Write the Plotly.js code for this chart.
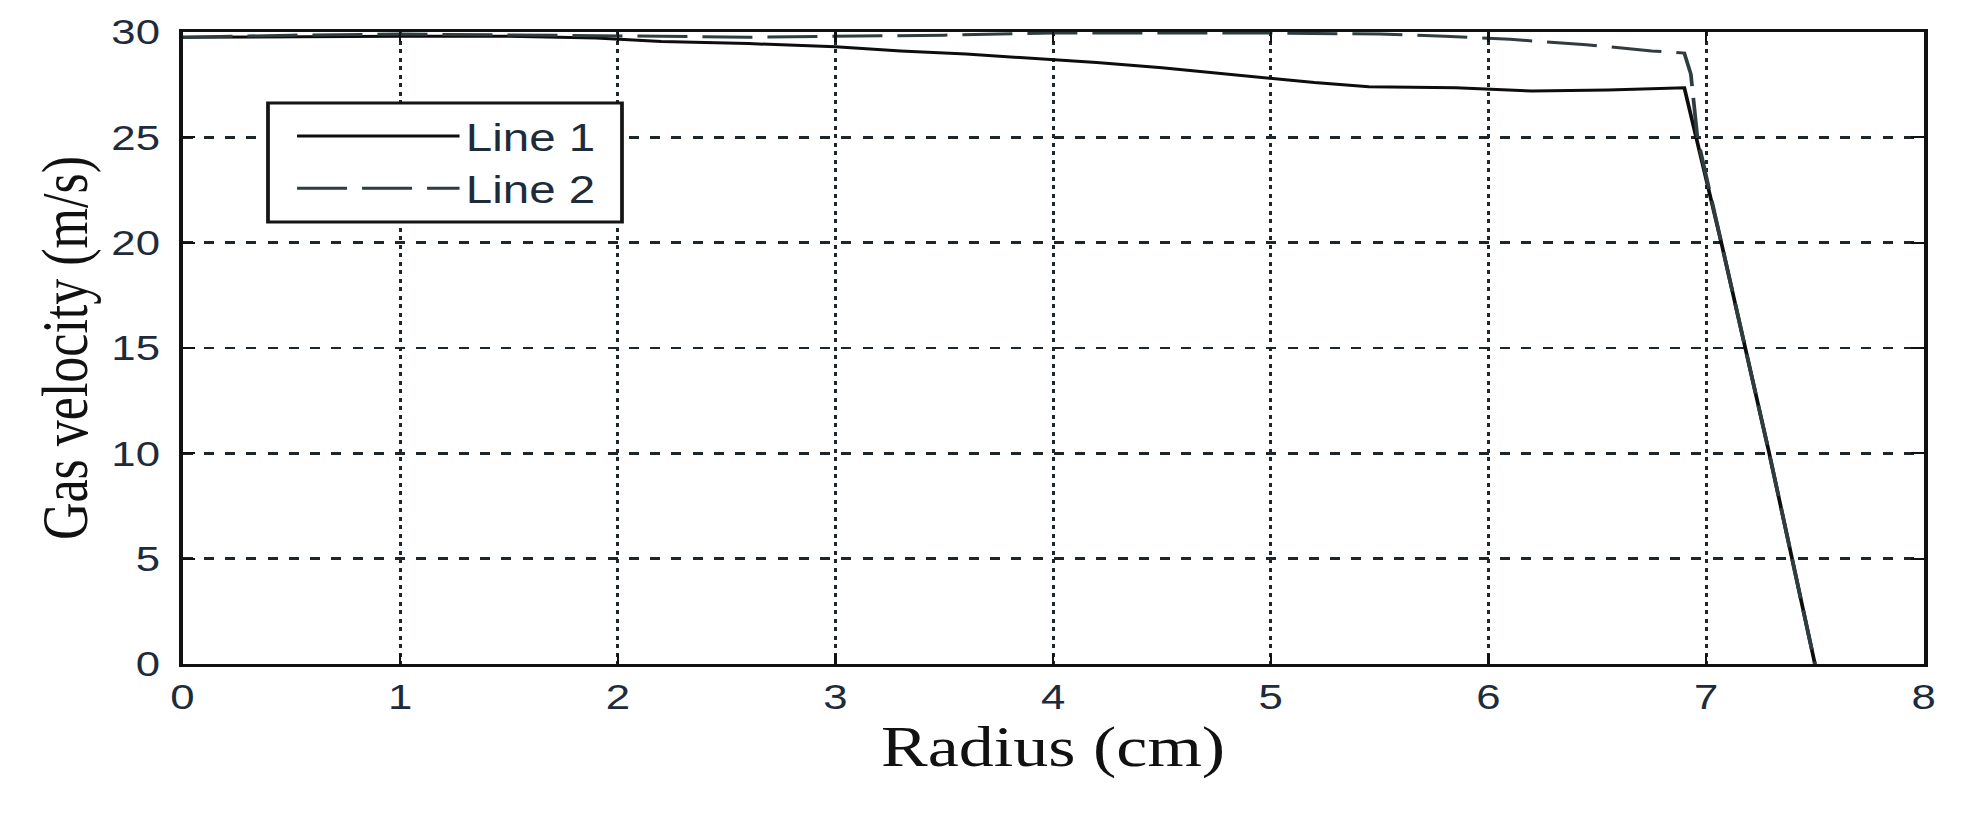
<!DOCTYPE html>
<html>
<head>
<meta charset="utf-8">
<script src="https://cdn.plot.ly/plotly-3.0.1.min.js"></script>
<style>
  html, body { margin: 0; padding: 0; background: #ffffff; overflow: hidden; }
  #plot { width: 1572px; height: 820px; transform: scaleX(1.25); transform-origin: 0 0; }
</style>
</head>
<body>
<div id="plot"></div>
<script>
// ---- data ----
var line1Name = "Line 1";
var line1X = [0, 0.5, 1, 1.5, 1.9, 2.2, 2.6, 3.0, 3.3, 3.6, 3.9, 4.2, 4.5, 4.8, 5.0, 5.2, 5.45, 5.85, 6.2, 6.55, 6.9, 7.07, 7.29, 7.5];
var line1Y = [29.75, 29.78, 29.8, 29.8, 29.72, 29.55, 29.45, 29.3, 29.1, 28.95, 28.75, 28.55, 28.3, 28.0, 27.8, 27.6, 27.4, 27.35, 27.2, 27.25, 27.35, 20, 10, 0];

var line2Name = "Line 2";
var line2X = [0, 0.5, 1, 1.75, 2.2, 2.6, 3.0, 3.5, 4.0, 4.5, 5.0, 5.5, 5.8, 6.1, 6.45, 6.75, 6.9, 6.93, 6.96, 7.07, 7.29, 7.5];
var line2Y = [29.75, 29.85, 29.9, 29.85, 29.8, 29.75, 29.8, 29.85, 29.95, 29.95, 29.95, 29.9, 29.8, 29.65, 29.4, 29.1, 29.0, 28.0, 25.0, 20, 10, 0];

var xTicks = [0, 1, 2, 3, 4, 5, 6, 7, 8];
var yTicks = [0, 5, 10, 15, 20, 25, 30];
var xTitle = "Radius (cm)";
var yTitle = "Gas velocity (m/s)";

var traces = [
  { x: line1X, y: line1Y, name: line1Name, type: "scatter", mode: "lines",
    line: { color: "#0d0d0d", width: 3 } },
  { x: line2X, y: line2Y, name: line2Name, type: "scatter", mode: "lines",
    line: { color: "#2f3c40", width: 3, dash: "40px,12px" } }
];

var tickFont = { family: "Liberation Sans, Arial, sans-serif", size: 35, color: "#1e2b3a" };
var gridCol = "#1c262b";

var layout = {
  width: 1572, height: 820,
  margin: { l: 146, r: 33, t: 32, b: 156 },
  paper_bgcolor: "#ffffff", plot_bgcolor: "#ffffff",
  showlegend: true,
  legend: {
    x: 0.0622, y: 0.885, xanchor: "left", yanchor: "top",
    bgcolor: "rgba(255,255,255,0)", borderwidth: 0,
    font: { family: "Liberation Sans, Arial, sans-serif", size: 38, color: "#1e2b3a" },
    itemwidth: 130, tracegroupgap: 0
  },
  // legend frame (white box with black border) behind the legend entries
  shapes: [{
    type: "rect", xref: "paper", yref: "paper",
    x0: 0.0491, x1: 0.2524, y0: 0.6994, y1: 0.8877,
    fillcolor: "#ffffff", line: { color: "#151515", width: 3 }, layer: "above"
  }],
  xaxis: {
    range: [0, 8], tickvals: xTicks, ticktext: xTicks.map(String),
    showline: true, linecolor: "#111111", linewidth: 3, mirror: "ticks",
    ticks: "inside", ticklen: 10, tickwidth: 2, tickcolor: "#111111",
    showgrid: true, gridcolor: gridCol, gridwidth: 2.5, griddash: "4px,4.5px",
    zeroline: false, tickfont: tickFont, ticklabelstandoff: 0,
    title: { text: xTitle, standoff: 5,
      font: { family: "Liberation Serif, Times New Roman, serif", size: 56, color: "#111111" } }
  },
  yaxis: {
    range: [0, 30], tickvals: yTicks, ticktext: yTicks.map(String),
    showline: true, linecolor: "#111111", linewidth: 3, mirror: "ticks",
    ticks: "inside", ticklen: 10, tickwidth: 2, tickcolor: "#111111",
    showgrid: true, gridcolor: gridCol, gridwidth: 2.5, griddash: "8px,9px",
    zeroline: false, tickfont: tickFont, ticklabelstandoff: 8,
    title: { text: yTitle, standoff: 3,
      font: { family: "Liberation Serif, Times New Roman, serif", size: 52, color: "#111111" } }
  }
};

Plotly.newPlot("plot", traces, layout, { staticPlot: true, displayModeBar: false });
</script>
</body>
</html>
